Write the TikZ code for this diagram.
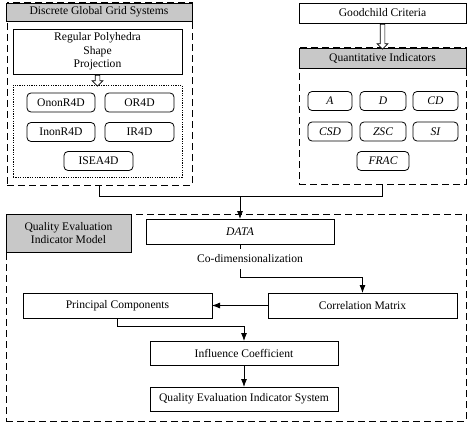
\documentclass[tikz,border=0pt]{standalone}
\usepackage{fontspec}
\setmainfont{Liberation Serif}
\usetikzlibrary{arrows.meta,shapes.arrows}
\definecolor{hdrgray}{RGB}{200,200,200}

\begin{document}
\begin{tikzpicture}[x = 1pt, y = -1pt, font = \fontsize{11.6}{13.5}\selectfont,
    box/.style = {draw, line width = 0.8pt, fill = white, inner sep = 0pt, outer sep = 0pt, align = center},
    hdr/.style = {box, fill = hdrgray},
    rbox/.style = {box, rounded corners = 4pt, minimum height = 19pt},
    ind/.style = {rbox, font = \fontsize{11.6}{13.5}\selectfont\itshape},
    panel/.style = {draw, line width = 1pt, dash pattern = on 7pt off 4pt, inner sep = 0pt, outer sep = 0pt},
    hollow/.style = {single arrow, draw, line width = 0.7pt, fill = white, shape border rotate = 270,
        inner sep = 2pt, single arrow head extend = 3pt, single arrow head indent = 0pt, minimum width = 10pt},
    link/.style = {line width = 0.8pt, -{Latex[length = 8pt, width = 6pt]}}]
        \useasboundingbox (0,0) rectangle (474,428);
        %Discrete Global Grid Systems
        \node [panel, minimum width = 185pt, minimum height = 182pt]
        (dggs)at(99.5,94){};
        \node [hdr, minimum width = 186pt, minimum height = 18pt]
        (dggshdr)at(99,12){Discrete Global Grid Systems};
        \node [box, minimum width = 169pt, minimum height = 45pt]
        (poly)at(97.5,51.5){Regular Polyhedra\\Shape\\Projection};
        \node [draw, line width = 0.8pt, dash pattern = on 1.2pt off 1.2pt, minimum width = 169pt, minimum height = 92pt, inner sep = 0pt]
        (grids)at(97.5,131){};
        \node [hollow, minimum height = 11pt]
        (arrl)at(97.5,79.5){};
        %Grids
        \node [rbox, minimum width = 68pt]
        (g1)at(61,102.5){OnonR4D};
        \node [rbox, minimum width = 69pt]
        (g2)at(139.5,102.5){OR4D};
        \node [rbox, minimum width = 68pt]
        (g3)at(61,132){InonR4D};
        \node [rbox, minimum width = 69pt]
        (g4)at(139.5,132){IR4D};
        \node [rbox, minimum width = 69pt]
        (g5)at(98.5,161){ISEA4D};
        %Goodchild Criteria
        \node [box, minimum width = 167pt, minimum height = 20pt]
        (gc)at(382.5,13){Goodchild Criteria};
        \node [panel, minimum width = 167pt, minimum height = 136pt]
        (qi)at(382.5,116){};
        \node [hdr, minimum width = 167pt, minimum height = 20pt]
        (qihdr)at(382.5,58){Quantitative Indicators};
        \node [hollow, minimum height = 25pt]
        (arrr)at(382.5,35.5){};
        %Indicators
        \node [ind, minimum width = 44pt]
        (i1)at(330,101){A};
        \node [ind, minimum width = 46pt]
        (i2)at(383,101){D};
        \node [ind, minimum width = 45pt]
        (i3)at(435.5,101){CD};
        \node [ind, minimum width = 44pt]
        (i4)at(330,131.5){CSD};
        \node [ind, minimum width = 46pt]
        (i5)at(383,131.5){ZSC};
        \node [ind, minimum width = 45pt]
        (i6)at(435.5,131.5){SI};
        \node [ind, minimum width = 52pt]
        (i7)at(383,161){FRAC};
        %Quality Evaluation Indicator Model
        \node [panel, minimum width = 460pt, minimum height = 207pt]
        (qeim)at(236,317.5){};
        \node [hdr, minimum width = 125pt, minimum height = 38pt]
        (qeimhdr)at(68.5,233){Quality Evaluation\\Indicator Model};
        \node [box, minimum width = 188pt, minimum height = 25pt, font = \fontsize{11.6}{13.5}\selectfont\itshape]
        (data)at(240,231.5){DATA};
        \node [box, minimum width = 189pt, minimum height = 25pt]
        (corr)at(362.5,305.5){Correlation Matrix};
        \node [box, minimum width = 189pt, minimum height = 25pt]
        (pc)at(117.5,305.5){Principal Components};
        \node [box, minimum width = 188pt, minimum height = 24pt]
        (infl)at(244,353){Influence Coefficient};
        \node [box, minimum width = 188pt, minimum height = 24pt]
        (qeis)at(244,399){Quality Evaluation Indicator System};

        \coordinate (join) at (240,196);
        \draw [line width = 0.8pt](dggs.south)--++(0,11)-|(qi.south);
        \draw [link](join)--(data.north);
        \draw [link](data.south)--++(0,33)-|(corr.north);
        \node [fill = white, inner sep = 1pt, minimum height = 20pt]
        (codim)at(250,259){Co-dimensionalization};
        \draw [link](corr.west)--(pc.east);
        \draw [link](pc.south)--++(0,8)-|(infl.north);
        \draw [link](infl)--(qeis);

    \end{tikzpicture}
\end{document}
